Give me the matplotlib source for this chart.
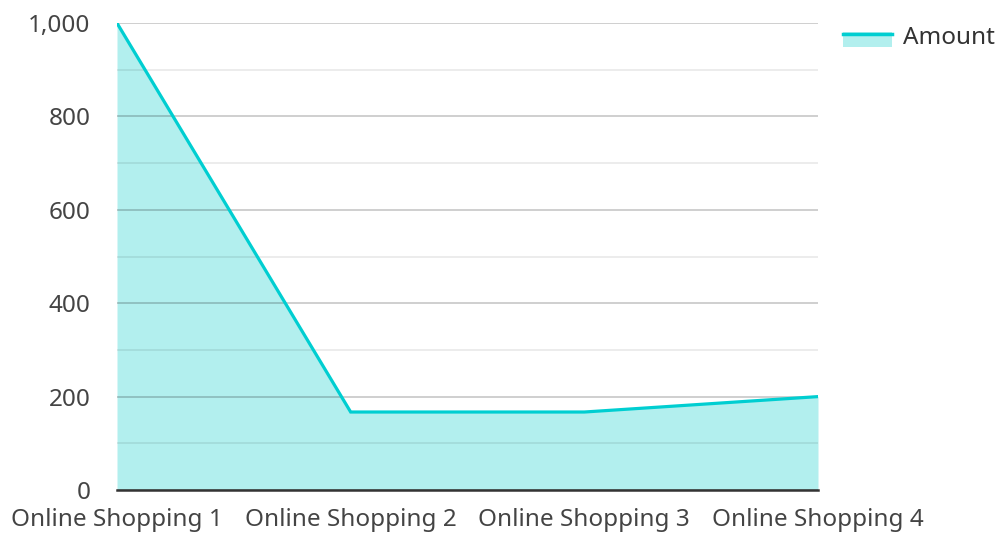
import numpy as np
import matplotlib.pyplot as plt
from matplotlib.patches import Rectangle
from matplotlib.lines import Line2D
from matplotlib.legend_handler import HandlerBase

plt.rcParams['font.family'] = ['Noto Sans', 'DejaVu Sans']

# data
categories = ["Online Shopping 1", "Online Shopping 2", "Online Shopping 3", "Online Shopping 4"]
amount = [1000, 167, 167, 200]

line_color = '#00CED1'
fill_color = '#B2EFEE'


class LineOverPatch(HandlerBase):
    # legend key: line on top edge of a filled patch
    def create_artists(self, legend, orig_handle, xdescent, ydescent,
                       width, height, fontsize, trans):
        h = height * 0.88
        y0 = -ydescent + height / 2 - h / 2 - 3.2
        rect = Rectangle((-xdescent, y0), width, h, facecolor=fill_color,
                         edgecolor='none', transform=trans)
        ln = Line2D([-xdescent, -xdescent + width], [y0 + h - 1, y0 + h - 1],
                    color=line_color, linewidth=2.5, transform=trans)
        return [rect, ln]


fig = plt.figure(figsize=(10, 5.33), dpi=100)
ax = fig.add_axes([0.117, 0.0807, 0.701, 0.876])

x = np.arange(len(categories))
ax.fill_between(x, amount, 0, color=fill_color, linewidth=0, zorder=1)
ax.plot(x, amount, color=line_color, linewidth=2.3, zorder=3, solid_joinstyle='miter')

ax.set_xlim(0, len(categories) - 1)
ax.set_ylim(0, 1000)
ax.set_yticks(np.arange(0, 1001, 200))
ax.set_yticks(np.arange(100, 1000, 200), minor=True)
ax.set_yticklabels(['{:,}'.format(v) for v in range(0, 1001, 200)])
ax.set_xticks(x)
ax.set_xticklabels(categories)

ax.grid(axis='y', which='major', color='#000000', alpha=0.22, linewidth=1.2, zorder=2)
ax.grid(axis='y', which='minor', color='#000000', alpha=0.09, linewidth=1.2, zorder=2)
ax.set_axisbelow(False)

for s in ['top', 'right', 'left']:
    ax.spines[s].set_visible(False)
ax.spines['bottom'].set_color('#333333')
ax.spines['bottom'].set_linewidth(1.8)
ax.spines['bottom'].set_zorder(4)

ax.tick_params(axis='both', which='both', length=0, labelsize=17.5, colors='#444444')
ax.tick_params(axis='y', pad=19)
ax.tick_params(axis='x', pad=13)

handle = Line2D([], [], color=line_color)
leg = fig.legend([handle], ['Amount'], handler_map={Line2D: LineOverPatch()},
                 loc='center left', bbox_to_anchor=(0.843, 0.929), frameon=False,
                 borderpad=0, borderaxespad=0,
                 fontsize=17.5, handlelength=2.0, handletextpad=0.45)
for t in leg.get_texts():
    t.set_color('#333333')

fig.savefig('out.png', dpi=100)
